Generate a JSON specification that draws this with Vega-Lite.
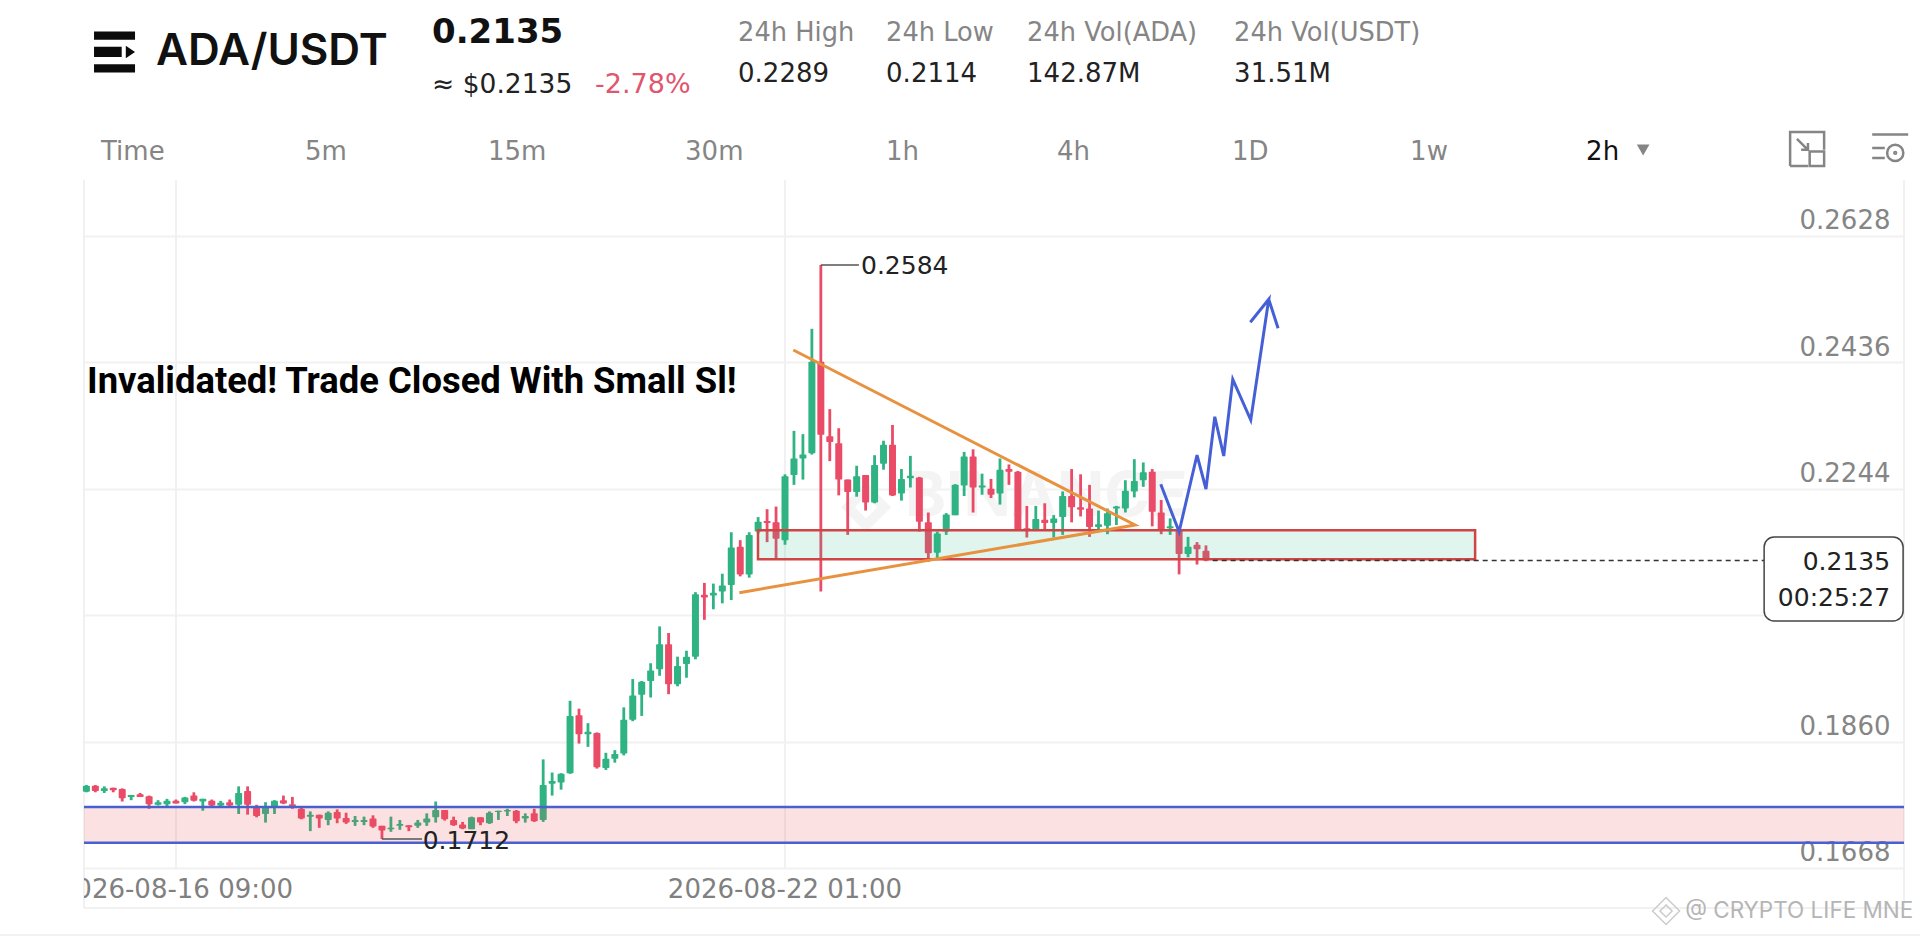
{
  "$schema": "https://vega.github.io/schema/vega-lite/v6.json",
  "width": 1820,
  "height": 728,
  "autosize": "none",
  "padding": {"left": 84, "top": 180, "right": 16, "bottom": 28},
  "background": "white",
  "config": {"view": {"stroke": null}, "text": {"font": "DejaVu Sans"}, "axis": {"labelFont": "DejaVu Sans"}},
  "datasets": {
    "candles": [
      {"t":"2026-08-15T13:00:00Z","open":0.1784,"high":0.1794,"low":0.1783,"close":0.1793},
      {"t":"2026-08-15T15:00:00Z","open":0.1793,"high":0.1794,"low":0.1783,"close":0.1785},
      {"t":"2026-08-15T17:00:00Z","open":0.1785,"high":0.1792,"low":0.1782,"close":0.1789},
      {"t":"2026-08-15T19:00:00Z","open":0.1790,"high":0.1790,"low":0.1783,"close":0.1786},
      {"t":"2026-08-15T21:00:00Z","open":0.1788,"high":0.1789,"low":0.1769,"close":0.1774},
      {"t":"2026-08-15T23:00:00Z","open":0.1776,"high":0.1779,"low":0.1771,"close":0.1779},
      {"t":"2026-08-16T01:00:00Z","open":0.1780,"high":0.1782,"low":0.1776,"close":0.1776},
      {"t":"2026-08-16T03:00:00Z","open":0.1777,"high":0.1778,"low":0.1758,"close":0.1765},
      {"t":"2026-08-16T05:00:00Z","open":0.1764,"high":0.1771,"low":0.1763,"close":0.1768},
      {"t":"2026-08-16T07:00:00Z","open":0.1765,"high":0.1773,"low":0.1762,"close":0.1770},
      {"t":"2026-08-16T09:00:00Z","open":0.1770,"high":0.1772,"low":0.1766,"close":0.1766},
      {"t":"2026-08-16T11:00:00Z","open":0.1768,"high":0.1776,"low":0.1765,"close":0.1775},
      {"t":"2026-08-16T13:00:00Z","open":0.1778,"high":0.1783,"low":0.1769,"close":0.1770},
      {"t":"2026-08-16T15:00:00Z","open":0.1769,"high":0.1773,"low":0.1755,"close":0.1773},
      {"t":"2026-08-16T17:00:00Z","open":0.1770,"high":0.1772,"low":0.1760,"close":0.1763},
      {"t":"2026-08-16T19:00:00Z","open":0.1763,"high":0.1770,"low":0.1761,"close":0.1767},
      {"t":"2026-08-16T21:00:00Z","open":0.1768,"high":0.1772,"low":0.1761,"close":0.1763},
      {"t":"2026-08-16T23:00:00Z","open":0.1764,"high":0.1792,"low":0.1750,"close":0.1782},
      {"t":"2026-08-17T01:00:00Z","open":0.1785,"high":0.1792,"low":0.1749,"close":0.1764},
      {"t":"2026-08-17T03:00:00Z","open":0.1760,"high":0.1764,"low":0.1745,"close":0.1747},
      {"t":"2026-08-17T05:00:00Z","open":0.1750,"high":0.1768,"low":0.1737,"close":0.1760},
      {"t":"2026-08-17T07:00:00Z","open":0.1760,"high":0.1771,"low":0.1750,"close":0.1770},
      {"t":"2026-08-17T09:00:00Z","open":0.1771,"high":0.1778,"low":0.1765,"close":0.1766},
      {"t":"2026-08-17T11:00:00Z","open":0.1765,"high":0.1776,"low":0.1758,"close":0.1762},
      {"t":"2026-08-17T13:00:00Z","open":0.1758,"high":0.1760,"low":0.1742,"close":0.1743},
      {"t":"2026-08-17T15:00:00Z","open":0.1746,"high":0.1754,"low":0.1724,"close":0.1749},
      {"t":"2026-08-17T17:00:00Z","open":0.1749,"high":0.1749,"low":0.1729,"close":0.1743},
      {"t":"2026-08-17T19:00:00Z","open":0.1741,"high":0.1754,"low":0.1733,"close":0.1752},
      {"t":"2026-08-17T21:00:00Z","open":0.1753,"high":0.1757,"low":0.1736,"close":0.1743},
      {"t":"2026-08-17T23:00:00Z","open":0.1744,"high":0.1752,"low":0.1735,"close":0.1737},
      {"t":"2026-08-18T01:00:00Z","open":0.1738,"high":0.1747,"low":0.1732,"close":0.1741},
      {"t":"2026-08-18T03:00:00Z","open":0.1738,"high":0.1746,"low":0.1733,"close":0.1741},
      {"t":"2026-08-18T05:00:00Z","open":0.1743,"high":0.1748,"low":0.1729,"close":0.1731},
      {"t":"2026-08-18T07:00:00Z","open":0.1732,"high":0.1732,"low":0.1712,"close":0.1725},
      {"t":"2026-08-18T09:00:00Z","open":0.1727,"high":0.1746,"low":0.1723,"close":0.1729},
      {"t":"2026-08-18T11:00:00Z","open":0.1732,"high":0.1741,"low":0.1726,"close":0.1735},
      {"t":"2026-08-18T13:00:00Z","open":0.1733,"high":0.1733,"low":0.1724,"close":0.1730},
      {"t":"2026-08-18T15:00:00Z","open":0.1732,"high":0.1741,"low":0.1729,"close":0.1737},
      {"t":"2026-08-18T17:00:00Z","open":0.1737,"high":0.1751,"low":0.1732,"close":0.1743},
      {"t":"2026-08-18T19:00:00Z","open":0.1745,"high":0.1769,"low":0.1737,"close":0.1756},
      {"t":"2026-08-18T21:00:00Z","open":0.1756,"high":0.1756,"low":0.1740,"close":0.1742},
      {"t":"2026-08-18T23:00:00Z","open":0.1741,"high":0.1746,"low":0.1732,"close":0.1733},
      {"t":"2026-08-19T01:00:00Z","open":0.1734,"high":0.1738,"low":0.1727,"close":0.1728},
      {"t":"2026-08-19T03:00:00Z","open":0.1727,"high":0.1746,"low":0.1727,"close":0.1745},
      {"t":"2026-08-19T05:00:00Z","open":0.1745,"high":0.1745,"low":0.1733,"close":0.1737},
      {"t":"2026-08-19T07:00:00Z","open":0.1736,"high":0.1754,"low":0.1735,"close":0.1752},
      {"t":"2026-08-19T09:00:00Z","open":0.1753,"high":0.1755,"low":0.1741,"close":0.1755},
      {"t":"2026-08-19T11:00:00Z","open":0.1754,"high":0.1758,"low":0.1747,"close":0.1756},
      {"t":"2026-08-19T13:00:00Z","open":0.1755,"high":0.1756,"low":0.1736,"close":0.1739},
      {"t":"2026-08-19T15:00:00Z","open":0.1743,"high":0.1751,"low":0.1737,"close":0.1747},
      {"t":"2026-08-19T17:00:00Z","open":0.1751,"high":0.1758,"low":0.1738,"close":0.1739},
      {"t":"2026-08-19T19:00:00Z","open":0.1741,"high":0.1833,"low":0.1738,"close":0.1794},
      {"t":"2026-08-19T21:00:00Z","open":0.1796,"high":0.1813,"low":0.1778,"close":0.1800},
      {"t":"2026-08-19T23:00:00Z","open":0.1798,"high":0.1812,"low":0.1787,"close":0.1811},
      {"t":"2026-08-20T01:00:00Z","open":0.1812,"high":0.1922,"low":0.1811,"close":0.1899},
      {"t":"2026-08-20T03:00:00Z","open":0.1900,"high":0.1910,"low":0.1857,"close":0.1871},
      {"t":"2026-08-20T05:00:00Z","open":0.1871,"high":0.1888,"low":0.1852,"close":0.1875},
      {"t":"2026-08-20T07:00:00Z","open":0.1873,"high":0.1874,"low":0.1819,"close":0.1821},
      {"t":"2026-08-20T09:00:00Z","open":0.1820,"high":0.1843,"low":0.1817,"close":0.1834},
      {"t":"2026-08-20T11:00:00Z","open":0.1834,"high":0.1847,"low":0.1828,"close":0.1841},
      {"t":"2026-08-20T13:00:00Z","open":0.1842,"high":0.1912,"low":0.1839,"close":0.1893},
      {"t":"2026-08-20T15:00:00Z","open":0.1893,"high":0.1955,"low":0.1891,"close":0.1930},
      {"t":"2026-08-20T17:00:00Z","open":0.1931,"high":0.1952,"low":0.1899,"close":0.1951},
      {"t":"2026-08-20T19:00:00Z","open":0.1952,"high":0.1979,"low":0.1927,"close":0.1968},
      {"t":"2026-08-20T21:00:00Z","open":0.1970,"high":0.2035,"low":0.1960,"close":0.2008},
      {"t":"2026-08-20T23:00:00Z","open":0.2008,"high":0.2025,"low":0.1932,"close":0.1947},
      {"t":"2026-08-21T01:00:00Z","open":0.1947,"high":0.1989,"low":0.1944,"close":0.1975},
      {"t":"2026-08-21T03:00:00Z","open":0.1978,"high":0.1998,"low":0.1957,"close":0.1989},
      {"t":"2026-08-21T05:00:00Z","open":0.1989,"high":0.2087,"low":0.1985,"close":0.2084},
      {"t":"2026-08-21T07:00:00Z","open":0.2083,"high":0.2101,"low":0.2045,"close":0.2079},
      {"t":"2026-08-21T09:00:00Z","open":0.2082,"high":0.2100,"low":0.2061,"close":0.2086},
      {"t":"2026-08-21T11:00:00Z","open":0.2088,"high":0.2115,"low":0.2070,"close":0.2097},
      {"t":"2026-08-21T13:00:00Z","open":0.2098,"high":0.2178,"low":0.2075,"close":0.2155},
      {"t":"2026-08-21T15:00:00Z","open":0.2156,"high":0.2166,"low":0.2111,"close":0.2114},
      {"t":"2026-08-21T17:00:00Z","open":0.2114,"high":0.2178,"low":0.2109,"close":0.2174},
      {"t":"2026-08-21T19:00:00Z","open":0.2179,"high":0.2201,"low":0.2176,"close":0.2194},
      {"t":"2026-08-21T21:00:00Z","open":0.2195,"high":0.2213,"low":0.2163,"close":0.2192},
      {"t":"2026-08-21T23:00:00Z","open":0.2193,"high":0.2217,"low":0.2138,"close":0.2168},
      {"t":"2026-08-22T01:00:00Z","open":0.2166,"high":0.2266,"low":0.2159,"close":0.2263},
      {"t":"2026-08-22T03:00:00Z","open":0.2265,"high":0.2332,"low":0.2250,"close":0.2290},
      {"t":"2026-08-22T05:00:00Z","open":0.2290,"high":0.2327,"low":0.2258,"close":0.2296},
      {"t":"2026-08-22T07:00:00Z","open":0.2298,"high":0.2487,"low":0.2296,"close":0.2437},
      {"t":"2026-08-22T09:00:00Z","open":0.2437,"high":0.2584,"low":0.2088,"close":0.2326},
      {"t":"2026-08-22T11:00:00Z","open":0.2324,"high":0.2365,"low":0.2286,"close":0.2315},
      {"t":"2026-08-22T13:00:00Z","open":0.2313,"high":0.2336,"low":0.2234,"close":0.2258},
      {"t":"2026-08-22T15:00:00Z","open":0.2258,"high":0.2258,"low":0.2174,"close":0.2239},
      {"t":"2026-08-22T17:00:00Z","open":0.2239,"high":0.2279,"low":0.2232,"close":0.2263},
      {"t":"2026-08-22T19:00:00Z","open":0.2265,"high":0.2265,"low":0.2211,"close":0.2223},
      {"t":"2026-08-22T21:00:00Z","open":0.2223,"high":0.2295,"low":0.2222,"close":0.2280},
      {"t":"2026-08-22T23:00:00Z","open":0.2282,"high":0.2317,"low":0.2273,"close":0.2311},
      {"t":"2026-08-23T01:00:00Z","open":0.2311,"high":0.2341,"low":0.2233,"close":0.2234},
      {"t":"2026-08-23T03:00:00Z","open":0.2237,"high":0.2274,"low":0.2226,"close":0.2259},
      {"t":"2026-08-23T05:00:00Z","open":0.2260,"high":0.2294,"low":0.2246,"close":0.2264},
      {"t":"2026-08-23T07:00:00Z","open":0.2261,"high":0.2262,"low":0.2179,"close":0.2194},
      {"t":"2026-08-23T09:00:00Z","open":0.2193,"high":0.2208,"low":0.2133,"close":0.2146},
      {"t":"2026-08-23T11:00:00Z","open":0.2147,"high":0.2179,"low":0.2136,"close":0.2176},
      {"t":"2026-08-23T13:00:00Z","open":0.2179,"high":0.2207,"low":0.2174,"close":0.2205},
      {"t":"2026-08-23T15:00:00Z","open":0.2204,"high":0.2251,"low":0.2204,"close":0.2250},
      {"t":"2026-08-23T17:00:00Z","open":0.2249,"high":0.2300,"low":0.2233,"close":0.2293},
      {"t":"2026-08-23T19:00:00Z","open":0.2293,"high":0.2304,"low":0.2208,"close":0.2246},
      {"t":"2026-08-23T21:00:00Z","open":0.2246,"high":0.2267,"low":0.2235,"close":0.2249},
      {"t":"2026-08-23T23:00:00Z","open":0.2244,"high":0.2259,"low":0.2230,"close":0.2235},
      {"t":"2026-08-24T01:00:00Z","open":0.2237,"high":0.2290,"low":0.2220,"close":0.2273},
      {"t":"2026-08-24T03:00:00Z","open":0.2274,"high":0.2281,"low":0.2250,"close":0.2270},
      {"t":"2026-08-24T05:00:00Z","open":0.2270,"high":0.2271,"low":0.2181,"close":0.2181},
      {"t":"2026-08-24T07:00:00Z","open":0.2184,"high":0.2218,"low":0.2170,"close":0.2181},
      {"t":"2026-08-24T09:00:00Z","open":0.2182,"high":0.2218,"low":0.2181,"close":0.2198},
      {"t":"2026-08-24T11:00:00Z","open":0.2197,"high":0.2222,"low":0.2181,"close":0.2192},
      {"t":"2026-08-24T13:00:00Z","open":0.2192,"high":0.2204,"low":0.2170,"close":0.2199},
      {"t":"2026-08-24T15:00:00Z","open":0.2201,"high":0.2240,"low":0.2174,"close":0.2233},
      {"t":"2026-08-24T17:00:00Z","open":0.2233,"high":0.2274,"low":0.2193,"close":0.2216},
      {"t":"2026-08-24T19:00:00Z","open":0.2216,"high":0.2266,"low":0.2202,"close":0.2212},
      {"t":"2026-08-24T21:00:00Z","open":0.2214,"high":0.2250,"low":0.2171,"close":0.2186},
      {"t":"2026-08-24T23:00:00Z","open":0.2186,"high":0.2211,"low":0.2181,"close":0.2190},
      {"t":"2026-08-25T01:00:00Z","open":0.2188,"high":0.2214,"low":0.2175,"close":0.2207},
      {"t":"2026-08-25T03:00:00Z","open":0.2214,"high":0.2218,"low":0.2189,"close":0.2217},
      {"t":"2026-08-25T05:00:00Z","open":0.2214,"high":0.2257,"low":0.2208,"close":0.2241},
      {"t":"2026-08-25T07:00:00Z","open":0.2240,"high":0.2289,"low":0.2231,"close":0.2256},
      {"t":"2026-08-25T09:00:00Z","open":0.2257,"high":0.2284,"low":0.2247,"close":0.2269},
      {"t":"2026-08-25T11:00:00Z","open":0.2270,"high":0.2274,"low":0.2187,"close":0.2209},
      {"t":"2026-08-25T13:00:00Z","open":0.2208,"high":0.2227,"low":0.2175,"close":0.2182},
      {"t":"2026-08-25T15:00:00Z","open":0.2184,"high":0.2199,"low":0.2174,"close":0.2187},
      {"t":"2026-08-25T17:00:00Z","open":0.2181,"high":0.2184,"low":0.2114,"close":0.2145},
      {"t":"2026-08-25T19:00:00Z","open":0.2145,"high":0.2171,"low":0.2140,"close":0.2156},
      {"t":"2026-08-25T21:00:00Z","open":0.2159,"high":0.2163,"low":0.2129,"close":0.2152},
      {"t":"2026-08-25T23:00:00Z","open":0.2150,"high":0.2158,"low":0.2134,"close":0.2135}
    ],
    "trend": [
      {"n":1,"t":"2026-08-22T02:51:00Z","p":0.24548},
      {"n":2,"t":"2026-08-25T07:10:00Z","p":0.2189},
      {"n":3,"t":"2026-08-21T14:48:00Z","p":0.20862}
    ],
    "arrow": [
      {"n":1,"t":"2026-08-25T12:54:00Z","p":0.22508},
      {"n":2,"t":"2026-08-25T17:00:00Z","p":0.21788},
      {"n":3,"t":"2026-08-25T21:00:00Z","p":0.22953},
      {"n":4,"t":"2026-08-25T23:00:00Z","p":0.22437},
      {"n":5,"t":"2026-08-26T00:58:00Z","p":0.23535},
      {"n":6,"t":"2026-08-26T02:58:00Z","p":0.22938},
      {"n":7,"t":"2026-08-26T04:59:00Z","p":0.24103},
      {"n":8,"t":"2026-08-26T09:00:00Z","p":0.23485},
      {"n":9,"t":"2026-08-26T13:01:00Z","p":0.25318},
      {"n":10,"t":"2026-08-26T08:54:00Z","p":0.24969},
      {"n":11,"t":"2026-08-26T13:01:00Z","p":0.25318},
      {"n":12,"t":"2026-08-26T15:06:00Z","p":0.24878}
    ]
  },
  "encoding": {
    "x": {
      "field": "t",
      "type": "temporal",
      "axis": null,
      "scale": {"type": "utc", "nice": false, "padding": 0, "domain": ["2026-08-15T12:28:00Z", "2026-09-01T10:52:00Z"]}
    },
    "y": {
      "field": "p",
      "type": "quantitative",
      "title": null,
      "scale": {"domain": [0.160724, 0.271306], "zero": false, "nice": false},
      "axis": {
        "orient": "right",
        "values": [0.1668, 0.186, 0.2052, 0.2244, 0.2436, 0.2628],
        "labelExpr": "datum.value == 0.2052 ? '' : format(datum.value, '.4f')",
        "title": null,
        "grid": true,
        "gridColor": "#f1f1f1",
        "gridWidth": 2,
        "domain": false,
        "ticks": false,
        "labelAlign": "right",
        "labelPadding": -14,
        "labelOffset": -15,
        "labelFontSize": 26,
        "labelColor": "#858585"
      }
    }
  },
  "layer": [
    {
      "data": {"values": [
        {"t":"2026-08-16T09:00:00Z","p":0.2713,"p2":0.1668},
        {"t":"2026-08-22T01:00:00Z","p":0.2713,"p2":0.1668},
        {"t":"2026-08-15T12:28:00Z","p":0.2713,"p2":0.1607},
        {"t":"2026-09-01T10:52:00Z","p":0.2713,"p2":0.1607}
      ]},
      "mark": {"type": "rule", "color": "#f1f1f1", "strokeWidth": 2},
      "encoding": {"y2": {"field": "p2"}}
    },
    {
      "data": {"values": [
        {"t":"2026-08-15T12:28:00Z","t2":"2026-09-01T10:52:00Z","p":0.160724},
        {"t":"2026-08-14T17:42:00Z","t2":"2026-09-01T14:26:00Z","p":0.15662}
      ]},
      "mark": {"type": "rule", "color": "#f1f1f1", "strokeWidth": 2},
      "encoding": {"x2": {"field": "t2"}}
    },
    {
      "data": {"values": [{"label":"BINANCE","t":"2026-08-23T03:48:00Z","p":0.22315}]},
      "mark": {"type": "text", "align": "left", "baseline": "middle", "font": "Inter", "fontSize": 62, "fontWeight": 700, "color": "#f4f4f4"},
      "encoding": {"text": {"field": "label"}}
    },
    {
      "data": {"values": [{"t":"2026-08-22T19:06:00Z","p":0.2216}]},
      "mark": {"type": "point", "shape": "M0,-1 L1,0 L0,1 L-1,0 Z M0,-.45 L-.45,0 L0,.45 L.45,0 Z", "filled": true, "size": 2500, "color": "#f4f4f4", "opacity": 1}
    },
    {
      "data": {"name": "candles"},
      "mark": {"type": "rule", "strokeWidth": 2.8},
      "encoding": {
        "y": {"field": "low", "type": "quantitative", "title": null},
        "y2": {"field": "high"},
        "color": {"condition": {"test": "datum.close >= datum.open", "value": "#2fb383"}, "value": "#ea4c68"}
      }
    },
    {
      "data": {"name": "candles"},
      "mark": {"type": "bar", "size": 7, "cornerRadius": 1},
      "encoding": {
        "y": {"field": "open", "type": "quantitative", "title": null},
        "y2": {"field": "close"},
        "color": {"condition": {"test": "datum.close >= datum.open", "value": "#2fb383"}, "value": "#ea4c68"}
      }
    },
    {
      "data": {"values": [{"t":"2026-08-15T12:28:00Z","t2":"2026-09-01T10:52:00Z","p":0.17607,"p2":0.17064}]},
      "mark": {"type": "rect", "color": "#e84d4d", "opacity": 0.17},
      "encoding": {"x2": {"field": "t2"}, "y2": {"field": "p2"}}
    },
    {
      "data": {"values": [
        {"t":"2026-08-15T12:28:00Z","t2":"2026-09-01T10:52:00Z","p":0.17607},
        {"t":"2026-08-15T12:28:00Z","t2":"2026-09-01T10:52:00Z","p":0.17064}
      ]},
      "mark": {"type": "rule", "color": "#4b60cf", "strokeWidth": 2.5},
      "encoding": {"x2": {"field": "t2"}}
    },
    {
      "data": {"values": [{"t":"2026-08-21T18:58:00Z","t2":"2026-08-28T11:06:00Z","p":0.2181,"p2":0.2137}]},
      "mark": {"type": "rect", "fill": "#2ebd85", "fillOpacity": 0.15, "stroke": "#cf4444", "strokeWidth": 2.5},
      "encoding": {"x2": {"field": "t2"}, "y2": {"field": "p2"}}
    },
    {
      "data": {"name": "trend"},
      "mark": {"type": "line", "color": "#e8913f", "strokeWidth": 3},
      "encoding": {"order": {"field": "n"}}
    },
    {
      "data": {"name": "arrow"},
      "mark": {"type": "line", "color": "#4560d6", "strokeWidth": 3},
      "encoding": {"order": {"field": "n"}}
    },
    {
      "data": {"values": [{"t":"2026-08-26T00:30:00Z","t2":"2026-08-31T03:38:00Z","p":0.2135}]},
      "mark": {"type": "rule", "color": "#333333", "strokeWidth": 1.5, "strokeDash": [5, 4]},
      "encoding": {"x2": {"field": "t2"}}
    },
    {
      "data": {"values": [
        {"t":"2026-08-22T09:00:00Z","t2":"2026-08-22T17:30:00Z","p":0.2584},
        {"t":"2026-08-18T07:00:00Z","t2":"2026-08-18T15:56:00Z","p":0.1712}
      ]},
      "mark": {"type": "rule", "color": "#555555", "strokeWidth": 1.5},
      "encoding": {"x2": {"field": "t2"}}
    },
    {
      "data": {"values": [{"t":"2026-08-31T03:38:00Z","t2":"2026-09-01T10:40:00Z","p":0.21708,"p2":0.20432}]},
      "mark": {"type": "rect", "fill": "white", "stroke": "#444444", "strokeWidth": 1.5, "cornerRadius": 10},
      "encoding": {"x2": {"field": "t2"}, "y2": {"field": "p2"}}
    },
    {
      "data": {"values": [
        {"label":"0.2135","t":"2026-09-01T07:46:00Z","p":0.2133},
        {"label":"00:25:27","t":"2026-09-01T07:46:00Z","p":0.20781}
      ]},
      "mark": {"type": "text", "align": "right", "baseline": "middle", "fontSize": 25, "color": "#222222"},
      "encoding": {"text": {"field": "label"}}
    },
    {
      "data": {"values": [
        {"label":"0.2584","t":"2026-08-22T17:58:00Z","p":0.2584},
        {"label":"0.1712","t":"2026-08-18T16:05:00Z","p":0.1712}
      ]},
      "mark": {"type": "text", "align": "left", "baseline": "middle", "dy": 1.5, "fontSize": 25, "color": "#222222"},
      "encoding": {"text": {"field": "label"}}
    },
    {
      "data": {"values": [{"label":"Invalidated! Trade Closed With Small Sl!","t":"2026-08-15T13:08:00Z","p":0.24062}]},
      "mark": {"type": "text", "align": "left", "baseline": "middle", "font": "Roboto", "fontSize": 36.4, "fontWeight": 700, "color": "#000000"},
      "encoding": {"text": {"field": "label"}}
    },
    {
      "data": {"values": [
        {"label":"2026-08-16 09:00","t":"2026-08-16T09:00:00Z","p":0.16346},
        {"label":"2026-08-22 01:00","t":"2026-08-22T01:00:00Z","p":0.16346}
      ]},
      "mark": {"type": "text", "align": "center", "baseline": "middle", "fontSize": 26, "color": "#808080", "clip": true},
      "encoding": {"text": {"field": "label"}}
    },
    {
      "data": {"values": [{"label":"@ CRYPTO LIFE MNE","t":"2026-08-30T10:00:00Z","p":0.16027}]},
      "mark": {"type": "text", "align": "left", "baseline": "middle", "font": "Inter", "fontSize": 22.5, "color": "#b5b5b5"},
      "encoding": {"text": {"field": "label"}}
    },
    {
      "data": {"values": [{"t":"2026-08-30T05:44:00Z","p":0.16027}]},
      "mark": {"type": "point", "shape": "M0,-1 L1,0 L0,1 L-1,0 Z M0,-.45 L-.45,0 L0,.45 L.45,0 Z", "filled": false, "size": 729, "color": "#cccccc", "strokeWidth": 1.5, "opacity": 1}
    },
    {
      "data": {"values": [{"t":"2026-08-15T19:17:00Z","p":0.29075}]},
      "mark": {"type": "point", "shape": "M-1,-1 H1 V-.6 H-1 Z M-1,-.25 H.35 V.25 H-1 Z M.55,-.3 L1,0 L.55,.3 Z M-1,.6 H1 V1 H-1 Z", "filled": true, "size": 1681, "color": "#0b0b0b", "opacity": 1}
    },
    {
      "data": {"values": [{"label":"ADA/USDT","t":"2026-08-16T04:33:00Z","p":0.29075}]},
      "mark": {"type": "text", "align": "left", "baseline": "middle", "font": "Inter", "fontSize": 44, "fontWeight": 600, "color": "#111111"},
      "encoding": {"text": {"field": "label"}}
    },
    {
      "data": {"values": [{"label":"0.2135","t":"2026-08-18T18:11:00Z","p":0.29363}]},
      "mark": {"type": "text", "align": "left", "baseline": "middle", "fontSize": 34, "fontWeight": 700, "color": "#111111"},
      "encoding": {"text": {"field": "label"}}
    },
    {
      "data": {"values": [{"label":"≈ $0.2135","t":"2026-08-18T18:11:00Z","p":0.28574}]},
      "mark": {"type": "text", "align": "left", "baseline": "middle", "fontSize": 26.5, "color": "#222222"},
      "encoding": {"text": {"field": "label"}}
    },
    {
      "data": {"values": [{"label":"-2.78%","t":"2026-08-20T06:35:00Z","p":0.28574}]},
      "mark": {"type": "text", "align": "left", "baseline": "middle", "fontSize": 27, "color": "#e0566f"},
      "encoding": {"text": {"field": "label"}}
    },
    {
      "data": {"values": [
        {"label":"24h High","t":"2026-08-21T14:31:00Z","p":0.29363},
        {"label":"24h Low","t":"2026-08-22T23:34:00Z","p":0.29363},
        {"label":"24h Vol(ADA)","t":"2026-08-24T07:03:00Z","p":0.29363},
        {"label":"24h Vol(USDT)","t":"2026-08-26T05:17:00Z","p":0.29363}
      ]},
      "mark": {"type": "text", "align": "left", "baseline": "middle", "fontSize": 25.7, "color": "#858585"},
      "encoding": {"text": {"field": "label"}}
    },
    {
      "data": {"values": [
        {"label":"0.2289","t":"2026-08-21T14:31:00Z","p":0.28741},
        {"label":"0.2114","t":"2026-08-22T23:34:00Z","p":0.28741},
        {"label":"142.87M","t":"2026-08-24T07:03:00Z","p":0.28741},
        {"label":"31.51M","t":"2026-08-26T05:17:00Z","p":0.28741}
      ]},
      "mark": {"type": "text", "align": "left", "baseline": "middle", "fontSize": 26, "color": "#222222"},
      "encoding": {"text": {"field": "label"}}
    },
    {
      "data": {"values": [
        {"label":"Time","t":"2026-08-15T16:16:00Z","p":0.27556},
        {"label":"5m","t":"2026-08-17T13:49:00Z","p":0.27556},
        {"label":"15m","t":"2026-08-19T06:41:00Z","p":0.27556},
        {"label":"30m","t":"2026-08-21T02:41:00Z","p":0.27556},
        {"label":"1h","t":"2026-08-22T23:34:00Z","p":0.27556},
        {"label":"4h","t":"2026-08-24T13:45:00Z","p":0.27556},
        {"label":"1D","t":"2026-08-26T04:49:00Z","p":0.27556},
        {"label":"1w","t":"2026-08-27T20:35:00Z","p":0.27556}
      ]},
      "mark": {"type": "text", "align": "left", "baseline": "middle", "fontSize": 26, "color": "#858585"},
      "encoding": {"text": {"field": "label"}}
    },
    {
      "data": {"values": [{"label":"2h","t":"2026-08-29T11:53:00Z","p":0.27556}]},
      "mark": {"type": "text", "align": "left", "baseline": "middle", "fontSize": 26, "color": "#111111"},
      "encoding": {"text": {"field": "label"}}
    },
    {
      "data": {"values": [{"t":"2026-08-30T00:37:00Z","p":0.27586}]},
      "mark": {"type": "point", "shape": "triangle-down", "filled": true, "size": 160, "color": "#858585", "opacity": 1}
    },
    {
      "data": {"values": [{"t":"2026-08-31T13:14:00Z","p":0.27602}]},
      "mark": {"type": "point", "shape": "M-1,1 V-1 H1 V.05 M-1,1 H.05 M.15,.15 H1 V1 H.15 Z M-.6,-.6 L.05,.05 M.05,-.35 V.05 H-.35", "filled": false, "size": 1156, "color": "#858585", "strokeWidth": 2.5, "opacity": 1}
    },
    {
      "data": {"values": [{"t":"2026-09-01T07:47:00Z","p":0.27602}]},
      "mark": {"type": "point", "shape": "M-1,-.8 H1 M-1,-.05 H-.3 M-1,.5 H-.3 M.73,.22 A.45,.45 0 1 1 -.17,.22 A.45,.45 0 1 1 .73,.22 M.33,.22 A.05,.05 0 1 1 .23,.22 A.05,.05 0 1 1 .33,.22", "filled": false, "size": 1296, "color": "#858585", "strokeWidth": 2.5, "opacity": 1}
    }
  ]
}
